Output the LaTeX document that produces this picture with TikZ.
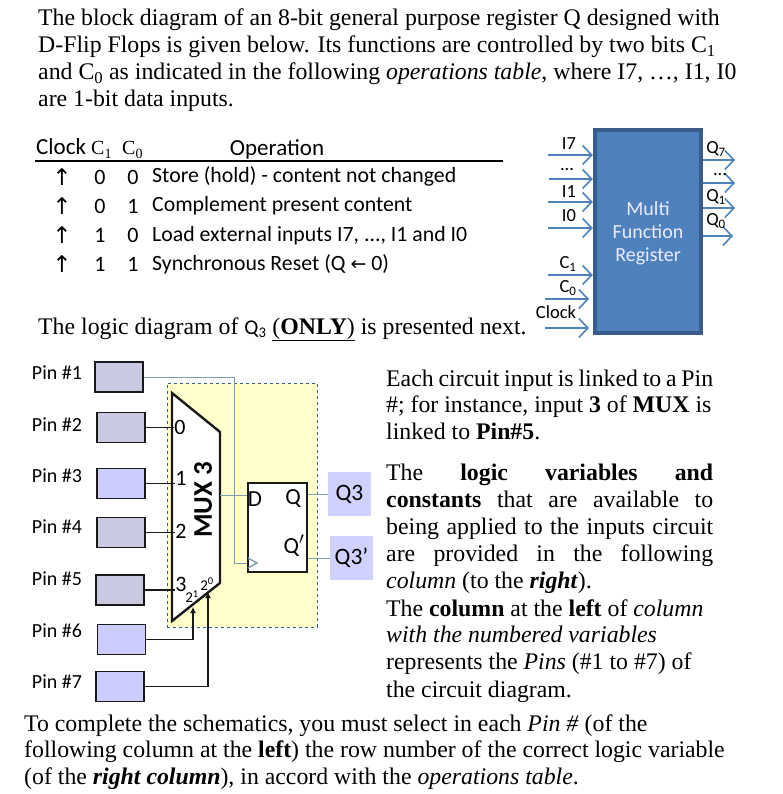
\documentclass[tikz,border=0pt]{standalone}
\usepackage{fontspec}
\setmainfont{Liberation Serif}
\setsansfont{Carlito}
\newfontfamily\symf{DejaVu Sans}
\usetikzlibrary{arrows.meta}
\definecolor{regblue}{HTML}{4F81BD}
\definecolor{regedge}{HTML}{385D8A}
\definecolor{pale}{HTML}{FFFFCC}
\definecolor{pinA}{HTML}{C9C9E2}
\definecolor{pinB}{HTML}{CCCCFF}
\definecolor{wire}{HTML}{7F9DB0}
\newcommand{\fit}[2]{\makebox[#1pt][s]{#2}}
\newcommand{\up}{{\symf\fontsize{23}{23}\selectfont ↑}}
\begin{document}
\begin{tikzpicture}[x=1pt, y=-1pt,
  txt/.style = {anchor=base west, inner sep=0pt, font=\fontsize{23.8}{26}\selectfont},
  lab/.style = {inner sep=0pt, font=\sffamily\fontsize{20}{24}\selectfont},
  hdr/.style = {inner sep=0pt, font=\sffamily\fontsize{23}{26}\selectfont},
  cell/.style = {inner sep=0pt, font=\sffamily\fontsize{22}{24}\selectfont},
  row/.style = {anchor=base west, inner sep=0pt, font=\sffamily\fontsize{21.8}{24}\selectfont},
  tag/.style = {inner sep=0pt, font=\sffamily\fontsize{18.5}{20}\selectfont},
  pin/.style = {draw=black!90, line width=1.4pt, fill=pinB, inner sep=0pt, minimum width=48pt, minimum height=30pt},
  pig/.style = {pin, fill=pinA},
  qbox/.style = {fill=pinB!90, inner sep=0pt, minimum width=43pt, minimum height=44pt, font=\sffamily\fontsize{23.5}{26}\selectfont},
  blk/.style = {draw=black!90, line width=1.2pt},
  thn/.style = {draw=wire, line width=0.9pt},
  reg/.style = {draw=regblue, line width=1.6pt, -{Straight Barb[length=9pt,width=19pt]}}]
\useasboundingbox (0,0) rectangle (782,794);

\node[txt] (t1) at (38,26) {The block diagram of an 8-bit general purpose register Q designed with};
\node[txt] (t2) at (38,53) {D-Flip Flops is given below. Its functions are controlled by two bits C\textsubscript{1}};
\node[txt] (t3) at (38,80) {and C\textsubscript{0} as indicated in the following \textit{operations table}, where I7, …, I1, I0};
\node[txt] (t4) at (38,107) {are 1-bit data inputs.};

\node[hdr, anchor=base west] (clk) at (36,155) {Clock};
\node[txt, font=\fontsize{20}{24}\selectfont] (c1) at (91,155) {C\textsubscript{1}};
\node[txt, font=\fontsize{20}{24}\selectfont] (c0) at (122,155) {C\textsubscript{0}};
\node[hdr] (oper) at (277,149) {Operation};
\draw[line width=1.1pt] (35,161) -- (503,161);
\node[cell] (a1) at (62,177) {\up};
\node[cell] (a2) at (62,206) {\up};
\node[cell] (a3) at (62,235) {\up};
\node[cell] (a4) at (62,264) {\up};
\node[cell] (x1) at (100,177) {0};
\node[cell] (x2) at (100,206) {0};
\node[cell] (x3) at (100,235) {1};
\node[cell] (x4) at (100,264) {1};
\node[cell] (y1) at (133,177) {0};
\node[cell] (y2) at (133,206) {1};
\node[cell] (y3) at (133,235) {0};
\node[cell] (y4) at (133,264) {1};
\node[row] (r1) at (152,183) {Store (hold) - content not changed};
\node[row] (r2) at (152,212) {Complement present content};
\node[row] (r3) at (152,241) {Load external inputs I7, ..., I1 and I0};
\node[row] (r4) at (152,270) {Synchronous Reset (Q {\symf\fontsize{19}{19}\selectfont ←} 0)};
\node[txt] (t5) at (38,334) {The logic diagram of {\sffamily\fontsize{21}{24}\selectfont Q\textsubscript{3}} \underline{(\textbf{ONLY})} is presented next.};

\node[draw=regedge, line width=4.5pt, fill=regblue, inner sep=0pt, minimum width=106pt, minimum height=203pt] (mfr) at (648,231.5) {};
\node[lab, text=blue!8!white] (mf1) at (648,209) {Multi};
\node[lab, text=blue!8!white] (mf2) at (648,232) {Function};
\node[lab, text=blue!8!white] (mf3) at (648,256) {Register};
\coordinate (i7) at (548,155);
\coordinate (id) at (549,179);
\coordinate (i1) at (548,202);
\coordinate (i0) at (548,228);
\coordinate (k1) at (548,275);
\coordinate (k0) at (545,299);
\coordinate (kc) at (545,328);
\coordinate (o7) at (735,160);
\coordinate (od) at (735,183);
\coordinate (o1) at (735,208);
\coordinate (o0) at (733,236);
\draw[reg] (i7) -- (mfr.west |- i7);
\draw[reg] (id) -- (mfr.west |- id);
\draw[reg] (i1) -- (mfr.west |- i1);
\draw[reg] (i0) -- (mfr.west |- i0);
\draw[reg] (k1) -- (mfr.west |- k1);
\draw[reg] (k0) -- (589,299);
\draw[reg] (kc) -- (589,328);
\draw[reg] (mfr.east |- o7) -- (o7);
\draw[reg] (mfr.east |- od) -- (od);
\draw[reg] (mfr.east |- o1) -- (o1);
\draw[reg] (mfr.east |- o0) -- (o0);
\node[tag] (li7) at (569,144) {I7};
\node[tag] (lid) at (567,170) {...};
\node[tag] (li1) at (569,192) {I1};
\node[tag] (li0) at (569,216) {I0};
\node[tag] (lk1) at (568,264) {C\textsubscript{1}};
\node[tag] (lk0) at (568,288) {C\textsubscript{0}};
\node[tag] (lkc) at (556,312) {Clock};
\node[tag] (lo7) at (716,149) {Q\textsubscript{7}};
\node[tag] (lod) at (720,175) {...};
\node[tag] (lo1) at (716,197) {Q\textsubscript{1}};
\node[tag] (lo0) at (716,221) {Q\textsubscript{0}};

\node[draw=regedge, dashed, line width=1pt, fill=pale, minimum width=150pt, minimum height=244pt, inner sep=0pt] (zone) at (242,505) {};
\node[lab] (n1) at (57,373) {Pin \#1};
\node[lab] (n2) at (57,425) {Pin \#2};
\node[lab] (n3) at (57,476) {Pin \#3};
\node[lab] (n4) at (57,527) {Pin \#4};
\node[lab] (n5) at (57,579) {Pin \#5};
\node[lab] (n6) at (57,631) {Pin \#6};
\node[lab] (n7) at (57,682) {Pin \#7};
\node[pig] (p1) at (119,377) {};
\node[pig] (p2) at (121,427.5) {};
\node[pin] (p3) at (121,483.5) {};
\node[pig] (p4) at (121,532.5) {};
\node[pig] (p5) at (120,590) {};
\node[pin] (p6) at (121.5,639.5) {};
\node[pin] (p7) at (120,686.5) {};

\draw[draw=black!90, line width=2.4pt, fill=white] (172,393) -- (220,432) -- (220,583) -- (172,621) -- cycle;
\coordinate (m0) at (174,427.5);
\coordinate (m1) at (175,483.5);
\coordinate (m2) at (175,532.5);
\coordinate (m3) at (175,590);
\coordinate (s1) at (193,607);
\coordinate (s0) at (208,592);
\coordinate (mo) at (220,495);
\coordinate (ck) at (234,563);
\node[cell] (l0) at (180,427) {0};
\node[cell] (l1) at (181,478) {1};
\node[cell] (l2) at (181,531) {2};
\node[cell] (l3) at (181,584) {3};
\node[lab, font=\sffamily\fontsize{15}{16}\selectfont] (l4) at (192,597) {2\textsuperscript{1}};
\node[lab, font=\sffamily\fontsize{15}{16}\selectfont] (l5) at (207,584) {2\textsuperscript{0}};
\node[lab, rotate=90, font=\sffamily\bfseries\fontsize{27}{28}\selectfont] (mux) at (203,500) {MUX 3};

\node[draw=black!90, line width=1.8pt, fill=white, inner sep=0pt, minimum width=59pt, minimum height=89pt] (ff) at (277.5,527.5) {};
\node[hdr] (d) at (255,499) {D};
\node[hdr] (q) at (293,499) {Q};
\node[hdr] (qn) at (294,546) {Q$'$};
\draw[draw=wire, line width=1.4pt] (248,558) -- (257,563) -- (248,568);
\node[qbox] (q3) at (349.5,494) {Q3};
\node[qbox] (q3n) at (351.5,558) {Q3’};

\draw[blk] (p2.east) -- (m0);
\draw[blk] (p3.east) -- (m1);
\draw[blk] (p4.east) -- (m2);
\draw[blk] (p5.east) -- (m3);
\draw[blk, -{Latex[length=6pt,width=6pt]}] (p6.east) -| (s1);
\draw[blk, -{Latex[length=6pt,width=6pt]}] (p7.east) -| (s0);
\draw[thn] (p1.east) -| (ck) -- (ff.west |- ck);
\draw[thn] (mo) -- (ff.west |- mo);
\draw[thn] (ff.east |- q3) -- (q3);
\draw[thn] (ff.east |- q3n) -- (q3n);

\node[txt] (b1) at (386,386) {\fit{327}{Each circuit input is linked to a Pin}};
\node[txt] (b2) at (386,412) {\#; for instance, input \textbf{3} of \textbf{MUX} is};
\node[txt] (b3) at (386,439) {linked to \textbf{Pin\#5}.};
\node[txt] (b4) at (386,480) {\fit{327}{The\hfill\textbf{logic}\hfill\textbf{variables}\hfill\textbf{and}}};
\node[txt] (b5) at (386,507) {\fit{327}{\textbf{constants} that are available to}};
\node[txt] (b6) at (386,534) {\fit{327}{being applied to the inputs circuit}};
\node[txt] (b7) at (386,561) {\fit{327}{are provided in the following}};
\node[txt] (b8) at (386,588) {\textit{column} (to the \textbf{\textit{right}}).};
\node[txt] (b9) at (386,616) {The \textbf{column} at the \textbf{left} of \textit{column}};
\node[txt] (b10) at (386,642) {\textit{with the numbered variables}};
\node[txt] (b11) at (386,669) {represents the \textit{Pins} (\#1 to \#7) of};
\node[txt] (b12) at (386,697) {the circuit diagram.};

\node[txt] (e1) at (24,731) {To complete the schematics, you must select in each \textit{Pin \#} (of the};
\node[txt] (e2) at (24,757) {following column at the \textbf{left}) the row number of the correct logic variable};
\node[txt] (e3) at (24,784) {(of the \textbf{\textit{right column}}), in accord with the \textit{operations table}.};
\end{tikzpicture}
\end{document}
